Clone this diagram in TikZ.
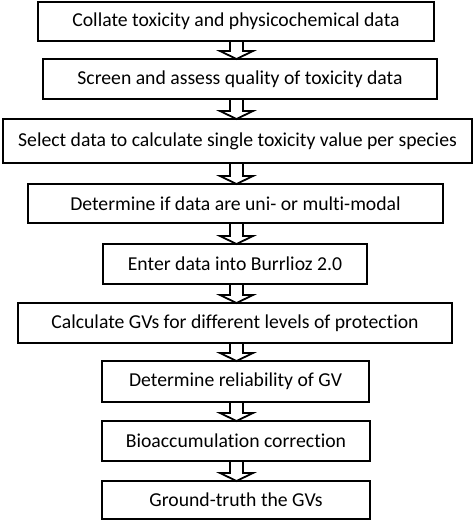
\documentclass[tikz,border=0pt]{standalone}
\usepackage{fontspec}
\setmainfont[Ligatures={NoCommon}]{Carlito}
\usetikzlibrary{calc}
\begin{document}
\begin{tikzpicture}[x=1pt,y=-1pt,
  stepbox/.style={draw=black, line width=2.6pt, inner sep=0pt, outer sep=0pt,
    minimum width=#1, font=\fontsize{19.7}{22}\selectfont, text=black},
  blockarrow/.style={draw=black, line width=1.8pt, line join=miter,
    to path={let \p1=(\tikztostart), \p2=(\tikztotarget) in
      (\x1-6.5pt,\y1) -- (\x1-6.5pt,\y2+8pt) -- (\x1-16.5pt,\y2+8pt) -- (\x2,\y2)
      -- (\x1+16.5pt,\y2+8pt) -- (\x1+6.5pt,\y2+8pt) -- (\x1+6.5pt,\y1)}}]
\useasboundingbox (0,0) rectangle (474,523);
\coordinate (axis) at (236.5,0);
\node[stepbox=396pt, minimum height=39pt] (b1) at (236,21.5) {Collate toxicity and physicochemical data};
\node[stepbox=394pt, minimum height=40pt] (b2) at (240,79) {Screen and assess quality of toxicity data};
\node[stepbox=469pt, minimum height=44pt] (b3) at (237.5,141) {Select data to calculate single toxicity value per species};
\node[stepbox=415pt, minimum height=39pt] (b4) at (235.5,203.5) {Determine if data are uni- or multi-modal};
\node[stepbox=264pt, minimum height=40pt] (b5) at (235,264) {Enter data into Burrlioz 2.0};
\node[stepbox=434pt, minimum height=40pt] (b6) at (235,323) {Calculate GVs for different levels of protection};
\node[stepbox=267pt, minimum height=41pt] (b7) at (235.5,381.5) {Determine reliability of GV};
\node[stepbox=268pt, minimum height=40pt] (b8) at (236,441) {Bioaccumulation correction};
\node[stepbox=268pt, minimum height=38pt] (b9) at (236,500) {Ground-truth the GVs};
\foreach \a/\b in {b1/b2,b2/b3,b3/b4,b4/b5,b5/b6,b6/b7,b7/b8,b8/b9}
  \draw[blockarrow] (\a.south -| axis) to (\b.north -| axis);
\end{tikzpicture}
\end{document}
